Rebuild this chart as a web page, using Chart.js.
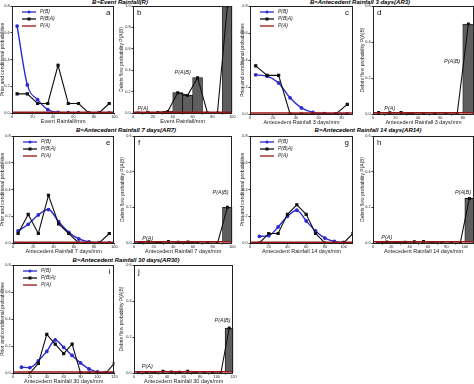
<!DOCTYPE html>
<html><head><meta charset="utf-8">
<script src="https://cdn.jsdelivr.net/npm/chart.js@4.4.0/dist/chart.umd.min.js"></script>
<style>
html,body{margin:0;padding:0;width:474px;height:384px;overflow:hidden;background:#fff;}
canvas{position:absolute;}
.gt{position:absolute;font:italic bold 6px "Liberation Sans",Arial,sans-serif;color:#000;white-space:nowrap;transform:translateX(-50%);}
</style></head><body>
<div class="gt" style="left:120px;top:-1px">B=Event Rainfall(R)</div>
<div class="gt" style="left:360px;top:-1px">B=Antecedent Rainfall 3 days(AR3)</div>
<div class="gt" style="left:126px;top:127px">B=Antecedent Rainfall 7 days(AR7)</div>
<div class="gt" style="left:368px;top:127px">B=Antecedent Rainfall 14 days(AR14)</div>
<div class="gt" style="left:126px;top:257px">B=Antecedent Rainfall 30 days(AR30)</div>
<script>
// ---------- data ----------
const pA = 0.0065;
// Event rainfall (R)
const xR = [5,15,25,35,45,55,65,75,85,95];
const pB_R  = [0.65,0.21,0.10,0.025,0.005,0.003,0.002,0.001,0.001,0.001];
const pBA_R = [0.143,0.143,0.071,0.071,0.357,0.071,0.071,0,0,0.071];
const pAB_R = [0.001,0.004,0.005,0.015,0.19,0.165,0.33,0,0,1.0];
// Antecedent 3 days (AR3)
const xAR3 = [5,15,25,35,45,55,65,75,85];
const pB_AR3  = [0.29,0.28,0.23,0.12,0.045,0.012,0.003,0.001,0.001];
const pBA_AR3 = [0.357,0.286,0.286,0,0,0,0,0,0.071];
const pAB_AR3 = [0.008,0.007,0.008,0,0,0,0,0,0.5];
// Antecedent 7 days (AR7)
const xAR7 = [5,15,25,35,45,55,65,75,85,95];
const pB_AR7  = [0.09,0.14,0.21,0.25,0.16,0.08,0.03,0.008,0.002,0.001];
const pBA_AR7 = [0.071,0.214,0.071,0.357,0.143,0.071,0,0,0,0.071];
const pAB_AR7 = [0.002,0.007,0.002,0.008,0.005,0.006,0,0,0,0.2];
// Antecedent 14 days (AR14)
const xAR14 = [10,20,30,40,50,60,70,80,90,100,110];
const pB_AR14  = [0.05,0.055,0.12,0.2,0.245,0.165,0.09,0.037,0.012,0.004,0.001];
const pBA_AR14 = [0,0.071,0.071,0.214,0.286,0.214,0.071,0,0,0,0.071];
const xAR14b = [5,15,25,35,45,55,65,75,85,95,105];
const pAB_AR14 = [0,0.006,0.003,0.005,0.007,0.008,0.003,0,0,0,0.25];
// Antecedent 30 days (AR30)
const xAR30 = [10,20,30,40,50,60,70,80,90,100,110,120];
const pB_AR30  = [0.043,0.04,0.09,0.16,0.245,0.19,0.13,0.075,0.03,0.008,0.002,0.001];
const pBA_AR30 = [null,0,0.071,0.286,0.214,0.143,0.214,0,0,0,0,0.071];
const xAR30b = [5,15,25,35,45,55,65,75,85,95,105,115];
const pAB_AR30 = [0,0,0.003,0.01,0.006,0.005,0.01,0,0,0,0,0.25];

// ---------- style ----------
const FAM = '"Liberation Sans", Arial, sans-serif';
const BLUE = '#2b2bd0', BLACK = '#111111', RED = '#9a1414', BAR = '#5e5e5e';

const zip = (xs, ys) => xs.map((x, i) => ({x, y: ys[i]}));

const deco = {
  id: 'deco',
  afterDatasetsDraw(chart, args, o) {
    const {ctx, chartArea: ca} = chart;
    const sx = chart.scales.x, sy = chart.scales.y;
    ctx.save();
    ctx.strokeStyle = '#222'; ctx.lineWidth = 1;
    ctx.strokeRect(Math.round(ca.left) + 0.5, Math.round(ca.top) + 0.5,
                   Math.round(ca.right - ca.left) - 1, Math.round(ca.bottom - ca.top));
    if (o.letter) {
      ctx.fillStyle = '#111'; ctx.font = '8px ' + FAM; ctx.textBaseline = 'middle';
      if (o.letterRight) { ctx.textAlign = 'right'; ctx.fillText(o.letter, ca.right - 4, ca.top + 7); }
      else { ctx.textAlign = 'left'; ctx.fillText(o.letter, ca.left + 4, ca.top + 7); }
    }
    if (o.legend) {
      const items = [
        {t: 'P(B)', c: BLUE, m: 'circle'},
        {t: 'P(B|A)', c: BLACK, m: 'rect'},
        {t: 'P(A)', c: RED, m: null}
      ];
      items.forEach((it, i) => {
        const y = ca.top + 6 + i * 7, x0 = ca.left + 10, x1 = ca.left + 24;
        ctx.strokeStyle = it.c; ctx.lineWidth = 1.3;
        ctx.beginPath(); ctx.moveTo(x0, y); ctx.lineTo(x1, y); ctx.stroke();
        ctx.fillStyle = it.c;
        if (it.m === 'circle') { ctx.beginPath(); ctx.arc((x0 + x1) / 2, y, 1.5, 0, Math.PI * 2); ctx.fill(); }
        if (it.m === 'rect') { ctx.fillRect((x0 + x1) / 2 - 1.5, y - 1.5, 3, 3); }
        ctx.fillStyle = '#222'; ctx.font = 'italic 5px ' + FAM;
        ctx.textAlign = 'left'; ctx.textBaseline = 'middle';
        ctx.fillText(it.t, ca.left + 28, y);
      });
    }
    (o.notes || []).forEach(n => {
      ctx.fillStyle = '#222'; ctx.font = 'italic 5.5px ' + FAM;
      ctx.textAlign = 'center'; ctx.textBaseline = 'middle';
      ctx.fillText(n.t, sx.getPixelForValue(n.x), sy.getPixelForValue(n.y));
    });
    ctx.restore();
  }
};

function panel(rect, cfg) {
  const YW = cfg.yw, PT = 6, PR = 3, XH = 12;
  const w = rect.r - rect.l + YW + PR, h = rect.b - rect.t + PT + XH;
  const cv = document.createElement('canvas');
  cv.width = w; cv.height = h;
  cv.style.left = (rect.l - YW) + 'px'; cv.style.top = (rect.t - PT) + 'px';
  cv.style.width = w + 'px'; cv.style.height = h + 'px';
  document.body.appendChild(cv);
  const tickFont = {size: 3.8, family: FAM};
  new Chart(cv, {
    type: 'line',
    data: {datasets: cfg.datasets},
    options: {
      responsive: false, animation: false, devicePixelRatio: 1,
      layout: {autoPadding: false, padding: {top: PT, right: PR, left: 0, bottom: 0}},
      plugins: {legend: {display: false}, tooltip: {enabled: false},
        deco: {letter: cfg.letter, letterRight: cfg.letterRight, legend: cfg.legend, notes: cfg.notes}},
      scales: {
        x: {type: 'linear', min: 0, max: cfg.xmax, offset: false,
          ticks: {stepSize: 20, includeBounds: false, font: tickFont, color: '#222', padding: 0.5, maxRotation: 0, autoSkip: false},
          grid: {display: true, drawOnChartArea: false, tickLength: 1.5, color: '#333'},
          border: {display: false},
          title: {display: true, text: cfg.xtitle, font: {size: 5.5, family: FAM}, color: '#222', padding: 0},
          afterFit: s => { s.height = XH; }},
        y: {type: 'linear', min: 0, max: cfg.ymax,
          ticks: {stepSize: 0.2, includeBounds: false, font: tickFont, color: '#222', padding: 1,
                  callback: v => v.toFixed(1)},
          grid: {display: true, drawOnChartArea: false, tickLength: 1.5, color: '#333'},
          border: {display: false},
          title: {display: true, text: cfg.ytitle, font: {size: 5, family: FAM}, color: '#222', padding: 0},
          afterFit: s => { s.width = YW; }}
      }
    },
    plugins: [deco]
  });
}

function priorSets(xs, pb, pba, xmax) {
  return [
    {label: 'P(A)', data: [{x: 0, y: pA}, {x: xmax, y: pA}], borderColor: RED, borderWidth: 1.5, pointRadius: 0, order: 0},
    {label: 'P(B|A)', data: zip(xs, pba), borderColor: BLACK, backgroundColor: BLACK, borderWidth: 1.1,
      pointStyle: 'rect', pointRadius: 1.5, tension: 0, order: 1},
    {label: 'P(B)', data: zip(xs, pb), borderColor: BLUE, backgroundColor: BLUE, borderWidth: 1.4,
      pointRadius: 1.2, cubicInterpolationMode: 'monotone', order: 2}
  ];
}
function postSets(xs, pab, xmax) {
  return [
    {label: 'P(A)', data: [{x: 0, y: pA}, {x: xmax, y: pA}], borderColor: RED, borderWidth: 1.5, pointRadius: 0, order: 0},
    {label: 'P(A|B)', data: zip(xs, pab), borderColor: BLACK, backgroundColor: BLACK, borderWidth: 1.1,
      pointStyle: 'rect', pointRadius: 1.3, tension: 0, order: 1},
    {type: 'bar', label: 'P(A|B) bars', data: zip(xs, pab), backgroundColor: BAR, borderColor: BLACK,
      borderWidth: 0.8, barPercentage: 1, categoryPercentage: 1, grouped: false, order: 3}
  ];
}

const PRIOR = 'Prior and conditional probabilities';
const POST = 'Debris flow probability P(A|B)';

panel({l: 12, t: 6, r: 115, b: 113}, {yw: 12, xmax: 100, ymax: 0.8, xtitle: 'Event Rainfall/mm', ytitle: PRIOR,
  letter: 'a', letterRight: true, legend: true, datasets: priorSets(xR, pB_R, pBA_R, 100)});
panel({l: 133, t: 6, r: 233, b: 113}, {yw: 14, xmax: 100, ymax: 1.0, xtitle: 'Event Rainfall/mm', ytitle: POST,
  letter: 'b', notes: [{t: 'P(A|B)', x: 50, y: 0.38}, {t: 'P(A)', x: 10, y: 0.04}], datasets: postSets(xR, pAB_R, 100)});
panel({l: 250, t: 6, r: 353, b: 114}, {yw: 10, xmax: 90, ymax: 0.8, xtitle: 'Antecedent Rainfall 3 days/mm', ytitle: PRIOR,
  letter: 'c', letterRight: true, legend: true, datasets: priorSets(xAR3, pB_AR3, pBA_AR3, 90)});
panel({l: 373, t: 6, r: 474, b: 114}, {yw: 13, xmax: 90, ymax: 0.6, xtitle: 'Antecedent Rainfall 3 days/mm', ytitle: POST,
  letter: 'd', notes: [{t: 'P(A|B)', x: 70.5, y: 0.29}, {t: 'P(A)', x: 15, y: 0.033}], datasets: postSets(xAR3, pAB_AR3, 90)});

panel({l: 13, t: 136, r: 115, b: 243}, {yw: 13, xmax: 100, ymax: 0.8, xtitle: 'Antecedent Rainfall 7 days/mm', ytitle: PRIOR,
  letter: 'e', letterRight: true, legend: true, datasets: priorSets(xAR7, pB_AR7, pBA_AR7, 100)});
panel({l: 134, t: 136, r: 233, b: 243}, {yw: 14, xmax: 100, ymax: 0.6, xtitle: 'Antecedent Rainfall 7 days/mm', ytitle: POST,
  letter: 'f', notes: [{t: 'P(A|B)', x: 88, y: 0.286}, {t: 'P(A)', x: 14, y: 0.028}], datasets: postSets(xAR7, pAB_AR7, 100)});
panel({l: 250, t: 136, r: 353, b: 243}, {yw: 10, xmax: 110, ymax: 0.8, xtitle: 'Antecedent Rainfall 14 days/mm', ytitle: PRIOR,
  letter: 'g', letterRight: true, legend: true, datasets: priorSets(xAR14, pB_AR14, pBA_AR14, 110)});
panel({l: 373, t: 136, r: 474, b: 243}, {yw: 13, xmax: 110, ymax: 0.6, xtitle: 'Antecedent Rainfall 14 days/mm', ytitle: POST,
  letter: 'h', notes: [{t: 'P(A|B)', x: 98, y: 0.286}, {t: 'P(A)', x: 15, y: 0.03}], datasets: postSets(xAR14b, pAB_AR14, 110)});

panel({l: 13, t: 265, r: 115, b: 373}, {yw: 13, xmax: 120, ymax: 0.8, xtitle: 'Antecedent Rainfall 30 days/mm', ytitle: PRIOR,
  letter: 'i', letterRight: true, legend: true, datasets: priorSets(xAR30, pB_AR30, pBA_AR30, 120)});
panel({l: 134, t: 265, r: 234, b: 373}, {yw: 15, xmax: 120, ymax: 0.6, xtitle: 'Antecedent Rainfall 30 days/mm', ytitle: POST,
  letter: 'j', notes: [{t: 'P(A|B)', x: 107, y: 0.294}, {t: 'P(A)', x: 16, y: 0.035}], datasets: postSets(xAR30b, pAB_AR30, 120)});
</script>
</body></html>
